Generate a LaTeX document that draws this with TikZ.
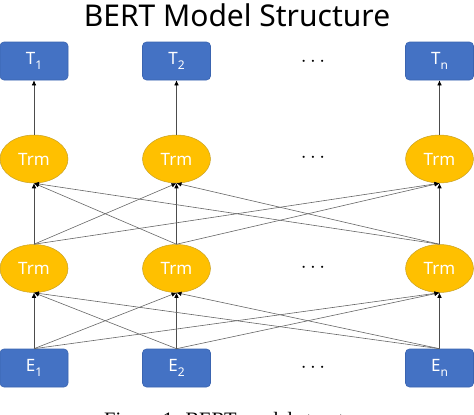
\documentclass[tikz,border=0pt]{standalone}
\usepackage{fontspec}
\setmainfont{Noto Sans}
\newfontfamily\capfont{Liberation Serif}
\usetikzlibrary{arrows.meta,shapes.geometric}
\definecolor{boxblue}{HTML}{4472C4}
\definecolor{boxedge}{HTML}{3A64B0}
\definecolor{trmfill}{HTML}{FFC000}
\definecolor{trmedge}{HTML}{C9A227}
\newcommand{\sbs}[1]{\raisebox{-0.3em}{\fontsize{12}{12}\selectfont #1}}
\tikzset{
  tokbox/.style={rectangle,rounded corners=4pt,fill=boxblue,draw=boxedge,line width=0.6pt,
    minimum width=68pt,minimum height=38pt,inner sep=0pt,text=white,font=\fontsize{17}{17}\selectfont},
  trmnode/.style={ellipse,fill=trmfill,draw=trmedge,line width=0.5pt,
    minimum width=68pt,minimum height=48pt,inner sep=0pt,text=white,font=\fontsize{17}{17}\selectfont},
  dotsnode/.style={font=\fontsize{22}{22}\selectfont,inner sep=0pt,anchor=base},
  vconn/.style={draw=black!70,line width=0.6pt,-{Latex[length=5pt,width=4.5pt,color=black]}},
  dconn/.style={draw=black!60,line width=0.6pt,-{Latex[length=5pt,width=4.5pt,color=black]}}
}
\begin{document}
\begin{tikzpicture}[x=1pt,y=-1pt]
\useasboundingbox (0,0) rectangle (474,415);
\node[anchor=base,inner sep=0pt,font=\fontsize{30}{30}\selectfont] (title) at (237,26) {BERT Model Structure};
% top tokens
\node[tokbox] (t1) at (34,61) {T\sbs{1}};
\node[tokbox] (t2) at (176.5,61) {T\sbs{2}};
\node[tokbox] (tn) at (439.5,61) {T\sbs{n}};
\node[dotsnode] (dt) at (313,66.5) {$\cdots$};
% upper Trm
\node[trmnode] (a1) at (34,159) {Trm};
\node[trmnode] (a2) at (176.5,159) {Trm};
\node[trmnode] (an) at (439.5,159) {Trm};
\node[dotsnode] (da) at (313,162.5) {$\cdots$};
% lower Trm
\node[trmnode] (b1) at (34,268.5) {Trm};
\node[trmnode] (b2) at (176.5,268.5) {Trm};
\node[trmnode] (bn) at (439.5,268.5) {Trm};
\node[dotsnode] (db) at (313,272.5) {$\cdots$};
% embeddings
\node[tokbox] (e1) at (34,368) {E\sbs{1}};
\node[tokbox] (e2) at (176.5,368) {E\sbs{2}};
\node[tokbox] (en) at (439.5,368) {E\sbs{n}};
\node[dotsnode] (de) at (313,372.5) {$\cdots$};
% caption
\node[anchor=base,inner sep=0pt,font=\capfont\fontsize{20.5}{20.5}\selectfont] (cap) at (237,426) {Figure 1: BERT model structure};
% connectors top
\draw[vconn] (a1.north) -- (t1.south);
\draw[vconn] (a2.north) -- (t2.south);
\draw[vconn] (an.north) -- (tn.south);
% layer b -> a
\draw[vconn] (b1.north) -- (a1.south);
\draw[vconn] (b2.north) -- (a2.south);
\draw[vconn] (bn.north) -- (an.south);
\draw[dconn] (b1.north) -- (a2.south);
\draw[dconn] (b1.north) -- (an.south);
\draw[dconn] (b2.north) -- (a1.south);
\draw[dconn] (b2.north) -- (an.south);
\draw[dconn] (bn.north) -- (a1.south);
\draw[dconn] (bn.north) -- (a2.south);
% layer e -> b
\draw[vconn] (e1.north) -- (b1.south);
\draw[vconn] (e2.north) -- (b2.south);
\draw[vconn] (en.north) -- (bn.south);
\draw[dconn] (e1.north) -- (b2.south);
\draw[dconn] (e1.north) -- (bn.south);
\draw[dconn] (e2.north) -- (b1.south);
\draw[dconn] (e2.north) -- (bn.south);
\draw[dconn] (en.north) -- (b1.south);
\draw[dconn] (en.north) -- (b2.south);
\end{tikzpicture}
\end{document}
